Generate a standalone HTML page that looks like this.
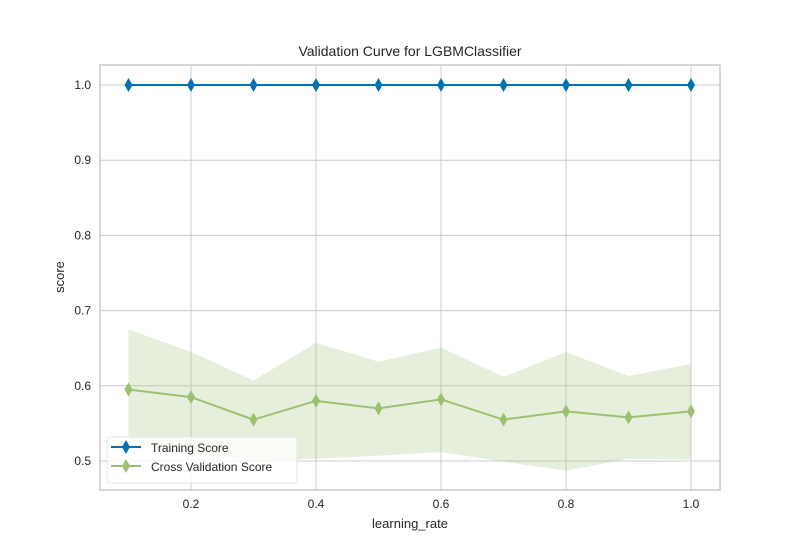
<!DOCTYPE html>
<html><head><meta charset="utf-8"><style>
body{margin:0;background:#fff;font-family:"Liberation Sans",sans-serif}
text{font-family:"Liberation Sans",sans-serif;fill:#262626}
</style></head><body>
<svg id="c" width="800" height="550"></svg>
<script>
const xs=[0.1,0.2,0.3,0.4,0.5,0.6,0.7,0.8,0.9,1.0];
const trainScores=[1,1,1,1,1,1,1,1,1,1];
const cvScores=[0.595,0.585,0.555,0.58,0.57,0.582,0.555,0.566,0.558,0.566];
const cvUpper=[0.675,0.645,0.607,0.657,0.632,0.651,0.612,0.645,0.613,0.629];
const cvLower=[0.52,0.51,0.50,0.503,0.507,0.512,0.499,0.487,0.503,0.502];
const xTicks=[0.2,0.4,0.6,0.8,1.0];
const yTicks=[0.5,0.6,0.7,0.8,0.9,1.0];
const L=100,R=720,T=65,B=490;
const X=v=>128.5+(v-0.1)*625;
const Y=v=>461-(v-0.5)*752;
const svg=document.getElementById('c');const NS='http://www.w3.org/2000/svg';
function mk(t,a,p){const e=document.createElementNS(NS,t);for(const k in a)e.setAttribute(k,a[k]);(p||svg).appendChild(e);return e;}
for(const t of xTicks){const g=mk('line',{x1:X(t),x2:X(t),y1:T,y2:B,stroke:'#cccccc','stroke-width':1});


const tx=mk('text',{x:X(t),y:508,'text-anchor':'middle','font-size':12});tx.textContent=t.toFixed(1);

}
for(const t of yTicks){const g=mk('line',{x1:L,x2:R,y1:Y(t),y2:Y(t),stroke:'#cccccc','stroke-width':1});


const tx=mk('text',{x:91,y:Y(t)+4,'text-anchor':'end','font-size':12});tx.textContent=t.toFixed(1);

}
let d='M'+xs.map((x,i)=>X(x)+','+Y(cvUpper[i])).join('L');
for(let i=xs.length-1;i>=0;i--)d+='L'+X(xs[i])+','+Y(cvLower[i]);
const band=mk('path',{d:d+'Z',fill:'#9bbe6e','fill-opacity':0.25});


function series(vals,col,name){
const p=mk('polyline',{points:xs.map((x,i)=>X(x)+','+Y(vals[i])).join(' '),fill:'none',stroke:col,'stroke-width':2});


xs.forEach((x,i)=>{const cx=X(x),cy=Y(vals[i]);
const m=mk('path',{d:`M${cx},${cy-7}L${cx+4},${cy}L${cx},${cy+7}L${cx-4},${cy}Z`,fill:col});

});}
series(trainScores,'#0072b2','training-score');
series(cvScores,'#9bc06f','cv-score');
const fr=mk('rect',{x:L,y:T,width:R-L,height:B-T,fill:'none',stroke:'#cccccc','stroke-width':1.5});


const ti=mk('text',{x:410,y:56,'text-anchor':'middle','font-size':14});ti.textContent='Validation Curve for LGBMClassifier';


const xl=mk('text',{x:410,y:528,'text-anchor':'middle','font-size':13});xl.textContent='learning_rate';


const yl=mk('text',{x:0,y:0,'text-anchor':'middle','font-size':13,transform:'translate(64,277) rotate(-90)'});yl.textContent='score';


const lg=mk('g',{});


mk('rect',{x:107,y:437,width:190,height:46,rx:3,fill:'#ffffff','fill-opacity':0.8,stroke:'#e6e6e6'},lg);
[['Training Score','#0072b2',450],['Cross Validation Score','#9bc06f',469]].forEach(([t,c,y])=>{
const e=mk('g',{},lg);


mk('line',{x1:111,x2:141,y1:y-3,y2:y-3,stroke:c,'stroke-width':2},e);
mk('path',{d:`M126,${y-10}L130,${y-3}L126,${y+4}L122,${y-3}Z`,fill:c},e);
const tx=mk('text',{x:151,y:y+2,'font-size':12},e);tx.textContent=t;});
</script>
</body></html>
